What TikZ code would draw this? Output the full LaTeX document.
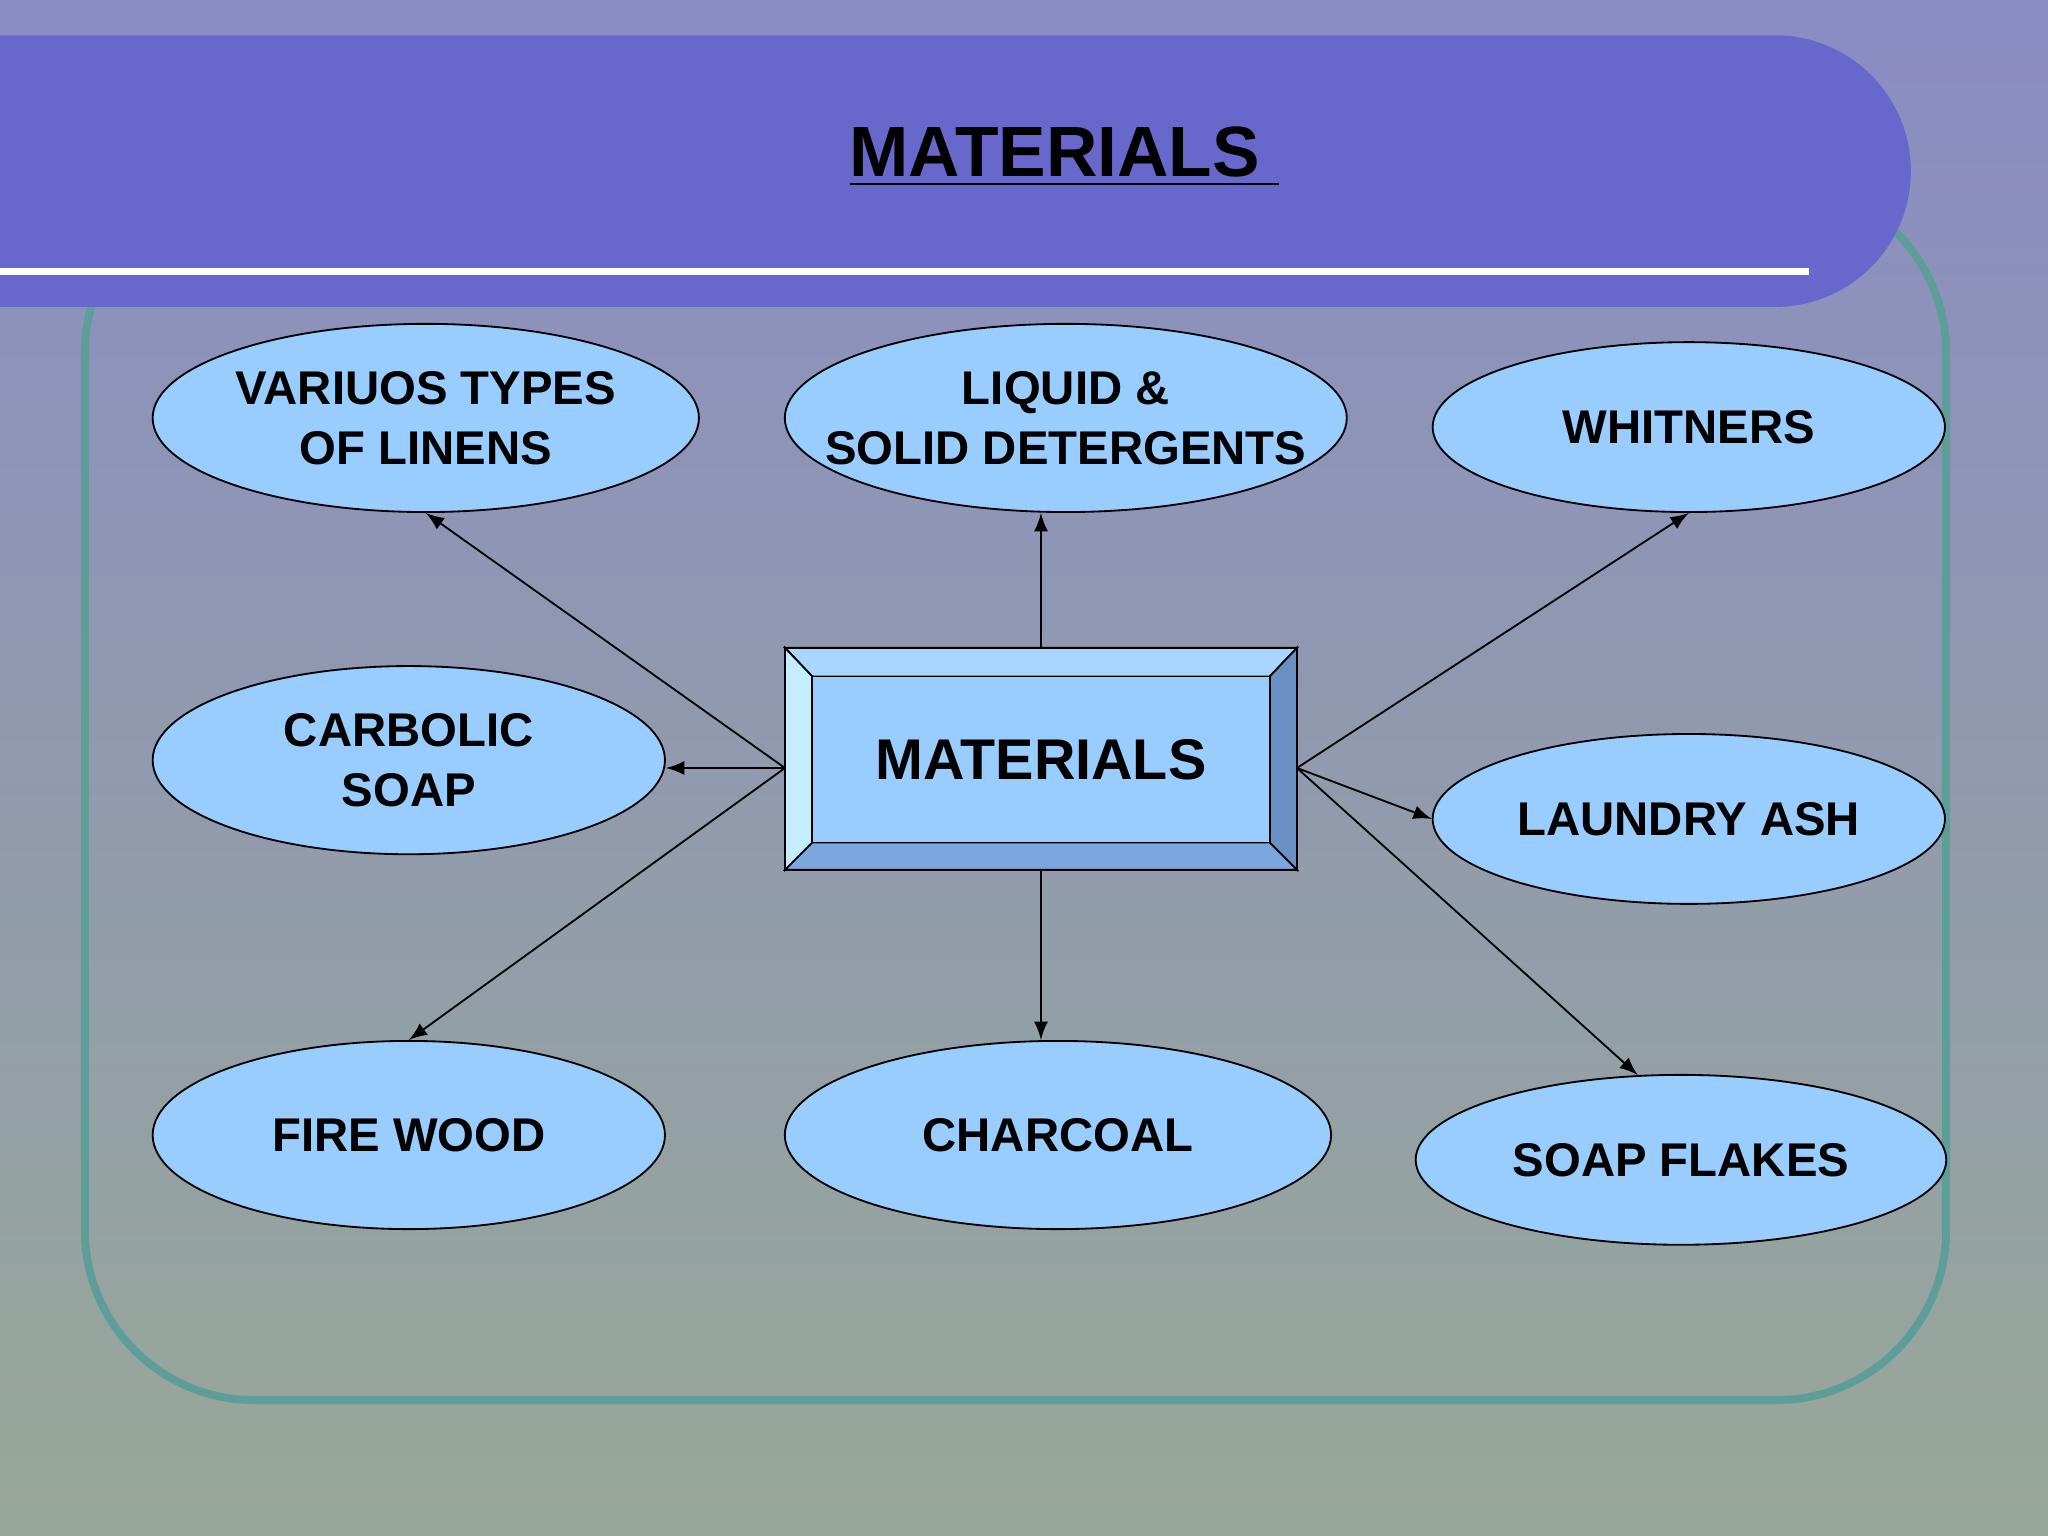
\documentclass[tikz,border=0pt]{standalone}
\usepackage{fontspec}
\setmainfont{Liberation Sans}
\usetikzlibrary{shapes.geometric}
\definecolor{bgtop}{HTML}{8A8CC4}
\definecolor{bgbot}{HTML}{98A898}
\definecolor{band}{HTML}{6868CC}
\definecolor{frame}{HTML}{5E9E98}
\definecolor{oval}{HTML}{99CCFF}
\definecolor{bevtop}{HTML}{A8D6FF}
\definecolor{bevleft}{HTML}{C4EEFF}
\definecolor{bevright}{HTML}{6A8FC4}
\definecolor{bevbot}{HTML}{7BA7DE}
\tikzset{
  item/.style={ellipse,draw=black,fill=oval,inner sep=-10pt,align=center,font=\bfseries\fontsize{10.3}{13}\selectfont},
  link/.style={-latex,thin,black}
}
\begin{document}
\begin{tikzpicture}[x=0.01cm,y=-0.01cm]
\useasboundingbox (0,0) rectangle (1568,1176);
\shade[top color=bgtop,bottom color=bgbot] (0,0) rectangle (1568,1176);
% frame and header
\draw[frame,line width=0.06cm,rounded corners=1.3cm] (65,140) rectangle (1490,1072);
\fill[band] (0,27) -- (1359,27) arc[start angle=-90,end angle=90,radius=104] -- (0,235) -- cycle;
\draw[white,line width=0.05cm] (0,208) -- (1385,208);
\node (title) at (815,120) {\bfseries\fontsize{15.5}{18}\selectfont\underline{MATERIALS\ }};
% ovals
\node[item,minimum width=4.18cm,minimum height=1.44cm] (linen) at (326,320) {VARIUOS TYPES\\OF LINENS};
\node[item,minimum width=4.30cm,minimum height=1.44cm] (deter) at (816,320) {LIQUID \&\\SOLID DETERGENTS};
\node[item,minimum width=3.92cm,minimum height=1.30cm] (whit) at (1293,327) {WHITNERS};
\node[item,minimum width=3.92cm,minimum height=1.44cm] (carb) at (313,582) {CARBOLIC\\SOAP};
\node[item,minimum width=3.92cm,minimum height=1.30cm] (ash) at (1293,627) {LAUNDRY ASH};
\node[item,minimum width=3.92cm,minimum height=1.44cm] (wood) at (313,869) {FIRE WOOD};
\node[item,minimum width=4.18cm,minimum height=1.44cm] (coal) at (810,869) {CHARCOAL};
\node[item,minimum width=4.06cm,minimum height=1.30cm] (flake) at (1287,888) {SOAP FLAKES};
% bevelled box
\filldraw[fill=bevtop,draw=black] (601,496) -- (993,496) -- (972,518) -- (622,518) -- cycle;
\filldraw[fill=bevleft,draw=black] (601,496) -- (622,518) -- (622,645) -- (601,666) -- cycle;
\filldraw[fill=bevright,draw=black] (993,496) -- (993,666) -- (972,645) -- (972,518) -- cycle;
\filldraw[fill=bevbot,draw=black] (601,666) -- (622,645) -- (972,645) -- (993,666) -- cycle;
\node[draw=black,fill=oval,minimum width=3.5cm,minimum height=1.27cm,font=\bfseries\fontsize{12.5}{15}\selectfont] (mat) at (797,581.5) {MATERIALS};
\coordinate (ml) at (601,588);
\coordinate (mr) at (993,588);
\coordinate (mt) at (797,496);
\coordinate (mb) at (797,666);
% links
\draw[link] (ml) -- (linen.south);
\draw[link] (ml) -- (ml -| carb.east);
\draw[link] (ml) -- (wood.north);
\draw[link] (mt) -- (deter.south -| mt);
\draw[link] (mb) -- (coal.north -| mb);
\draw[link] (mr) -- (whit.south);
\draw[link] (mr) -- (ash.west);
\draw[link] (mr) -- (flake.117);
\end{tikzpicture}
\end{document}
